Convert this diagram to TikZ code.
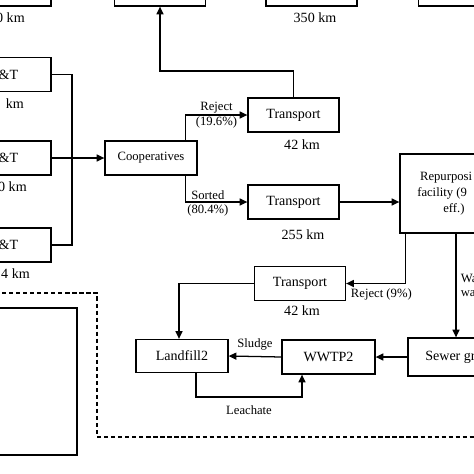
\documentclass[tikz,border=0pt]{standalone}
\usepackage{fontspec}
\setmainfont{Liberation Serif}
\usetikzlibrary{arrows.meta}

\begin{document}
\begin{tikzpicture}[x=0.025cm, y=-0.025cm,
    box/.style={draw, line width=0.9pt, minimum width=2.275cm, minimum height=0.85cm, inner sep=0pt, font=\fontsize{10}{12}\selectfont},
    ctbox/.style={box, minimum width=2.125cm},
    km/.style={inner sep=0pt, font=\fontsize{10}{12}\selectfont},
    lbl/.style={inner sep=0pt, font=\fontsize{9}{10.5}\selectfont},
    ln/.style={line width=0.9pt},
    arr/.style={line width=0.9pt, -{Triangle[length=5.5pt,width=5pt]}}]
    \useasboundingbox (0,0) rectangle (474,474);
    \clip (0,0) rectangle (474,474);

    % boxes cut by the top edge
    \node[box] (topL) at (5.5,-11) {};
    \node[box] (topM) at (160,-11) {};
    \node[box] (topR) at (311.5,-11) {};
    \node[box] (topRR) at (464,-11) {};
    \node[km, anchor=east] (kmTL) at (25,18) {0 km};
    \node[km] (kmTR) at (315,18) {350 km};

    % collection column
    \node[ctbox] (ct1) at (8.5,74.5) {\&T};
    \node[ctbox] (ct2) at (8.5,158) {\&T};
    \node[ctbox] (ct3) at (8.5,245) {\&T};
    \node[km, anchor=east] (kmA) at (24,104) {km};
    \node[km, anchor=east] (kmB) at (27,187) {0 km};
    \node[km, anchor=east] (kmC) at (30,274) {4 km};

    \node[box, minimum width=2.3cm, font=\fontsize{9}{11}\selectfont] (coop) at (151,158) {Cooperatives};
    \node[box] (tr1) at (293.5,115) {Transport};
    \node[box] (tr2) at (293.5,202) {Transport};
    \node[box] (tr3) at (300,283.5) {Transport};
    \node[km] (km1) at (302,145) {42 km};
    \node[km] (km2) at (303,235) {255 km};
    \node[km] (km3) at (302,311) {42 km};

    \node[box, minimum width=2.6cm, minimum height=1.975cm] (rep) at (452,193.5) {};
    \node[lbl, anchor=west, align=left, font=\fontsize{9}{11.4}\selectfont] (reptxt) at (417,194) {\hspace*{2pt}Repurposi\\facility (9\\\hspace*{18.5pt}eff.)};

    \node[box, minimum width=2.35cm, minimum height=0.95cm] (sewer) at (455,357) {};
    \node[km, anchor=west] (sewertxt) at (425,357) {Sewer gr};
    \node[box, minimum width=2.325cm] (wwtp) at (328.5,357) {WWTP2};
    \node[box, minimum width=2.3cm, minimum height=0.825cm] (landfill) at (182,356) {Landfill2};

    % empty box at the lower left
    \node[box, minimum width=2.85cm, minimum height=3.675cm] (side) at (20,381.5) {};

    % connectors
    \coordinate (jn) at (72,158);
    \draw[ln] (ct1.east) -| (jn);
    \draw[ln] (ct3.east) -| (jn);
    \draw[arr] (ct2.east) -- (coop.west);

    \draw[arr] ([xshift=-0.3cm]coop.north east) |- (tr1.west)
        node[lbl, pos=0.75, align=center] {Reject\\(19.6\%)};
    \draw[arr] ([xshift=-0.3cm]coop.south east) |- (tr2.west)
        node[lbl, pos=0.68, align=center, yshift=-1pt] {Sorted\\(80.4\%)};

    \coordinate (up1) at (160,71);
    \draw[arr] (tr1.north) |- (up1) -- (topM.south);
    \draw[arr] (tr2.east) -- (tr2.east -| rep.west);

    \draw[arr] ([xshift=0.15cm]rep.south west) |- (tr3.east)
        node[lbl, pos=0.75, anchor=north, yshift=-3pt, xshift=4pt] {Reject (9\%)};
    \draw[arr] ([xshift=0.1cm]rep.south) -- ([xshift=0.1cm]rep.south |- sewer.north)
        node[lbl, pos=0.5, anchor=west, align=left, xshift=3pt] {Wa\\wa};

    \draw[arr] (sewer.west) -- (wwtp.east);
    \draw[arr] (wwtp.west) -- (landfill.east)
        node[lbl, midway, above=4pt] {Sludge};
    \draw[arr] (tr3.west) -| ([xshift=-0.075cm]landfill.north);

    \coordinate (lchL) at (196,397);
    \coordinate (lchR) at (302,397);
    \draw[arr] (landfill.south -| lchL) -- (lchL) -- (lchR)
        node[lbl, midway, below=6pt] {Leachate}
        -- (wwtp.south -| lchR);

    % dashed boundary
    \draw[ln, dash pattern=on 3pt off 2pt] (-5,293) -- (97,293) -- (97,437) -- (480,437);
\end{tikzpicture}
\end{document}
